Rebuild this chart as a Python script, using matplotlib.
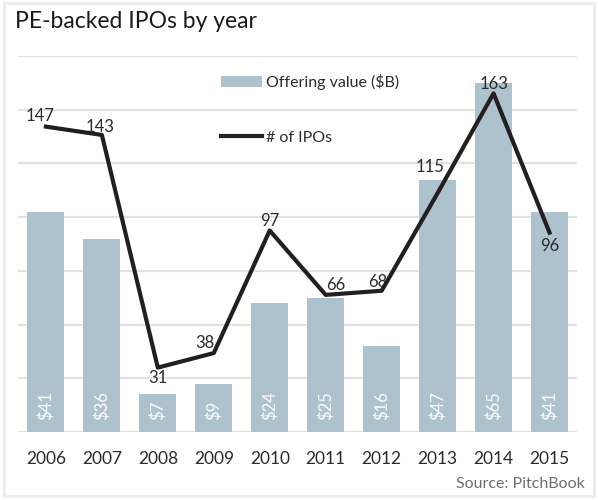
import matplotlib
matplotlib.use("Agg")
import matplotlib.pyplot as plt
from matplotlib.patches import Rectangle
from matplotlib.lines import Line2D
from matplotlib.patches import Patch

# data
years = ['2006', '2007', '2008', '2009', '2010', '2011', '2012', '2013', '2014', '2015']
offering_value = [41, 36, 7, 9, 24, 25, 16, 47, 65, 41]
ipo_count = [147, 143, 31, 38, 97, 66, 68, 115, 163, 96]

# label offsets (points) for the line labels
lbl_dx = [-4, -1, 0, -6.5, 0, 7, -3, -5.5, 0, 0]
lbl_dy = [7.5, 6, -7.5, 7, 7, 7, 6, 19, 7, -9.5]

bar_col = '#aec2cd'
line_col = '#231f20'
grid_col = '#e2e2e2'
txt_col = '#2b2b2b'

plt.rcParams['font.family'] = ['Lato', 'DejaVu Sans']

fig = plt.figure(figsize=(5.98, 5.0), dpi=100)
ax = fig.add_axes([0.030, 0.136, 0.9357, 0.752])
ax2 = ax.twinx()

x = list(range(len(years)))
ax.bar(x, offering_value, width=0.66, color=bar_col, zorder=2)
ax.set_ylim(0, 70)
ax.set_yticks(range(0, 71, 10))
ax.set_xlim(-0.5, len(years) - 0.5)
ax.grid(axis='y', color=grid_col, linewidth=1.5, zorder=0)
ax.set_axisbelow(True)
ax.set_xticks(x)
ax.set_xticklabels(years, fontsize=12.5, color=txt_col)
ax.tick_params(axis='x', length=0, pad=14)
ax.tick_params(axis='y', length=0, labelleft=False)
for s in ax.spines.values():
    s.set_visible(False)

for i, v in enumerate(offering_value):
    ax.annotate('$%d' % v, (i, 0), xytext=(0, 9), textcoords='offset points',
                rotation=90, ha='center', va='bottom', color='white',
                fontsize=12, zorder=3)

ax2.plot(x, ipo_count, color=line_col, linewidth=3, zorder=4)
ax2.set_ylim(0, 181)
ax2.tick_params(axis='y', length=0, labelright=False)
for s in ax2.spines.values():
    s.set_visible(False)
for i, v in enumerate(ipo_count):
    ax2.annotate(str(v), (i, v), xytext=(lbl_dx[i], lbl_dy[i]),
                 textcoords='offset points', ha='center', va='center',
                 fontsize=12, color=txt_col)

handles = [Patch(facecolor=bar_col, edgecolor='none'),
           Line2D([0], [0], color=line_col, linewidth=3)]
leg = ax.legend(handles, ['Offering value ($B)', '# of IPOs'],
                loc='upper left', bbox_to_anchor=(0.337, 0.99),
                frameon=False, fontsize=11.5, handlelength=2.6,
                handletextpad=0.2, labelspacing=2.55)
for t in leg.get_texts():
    t.set_color(txt_col)

fig.text(0.025, 0.957, 'PE-backed IPOs by year', fontsize=16.5,
         color='#1a1a1a', ha='left', va='center')
fig.text(0.978, 0.033, 'Source: PitchBook', fontsize=11.5,
         color='#6d6e70', ha='right', va='center')

# light frame around the whole figure
fig.patches.append(Rectangle((0.006, 0.008), 0.988, 0.986,
                             transform=fig.transFigure, fill=False,
                             edgecolor='#ececec', linewidth=2))

fig.savefig('out.png', dpi=100)
